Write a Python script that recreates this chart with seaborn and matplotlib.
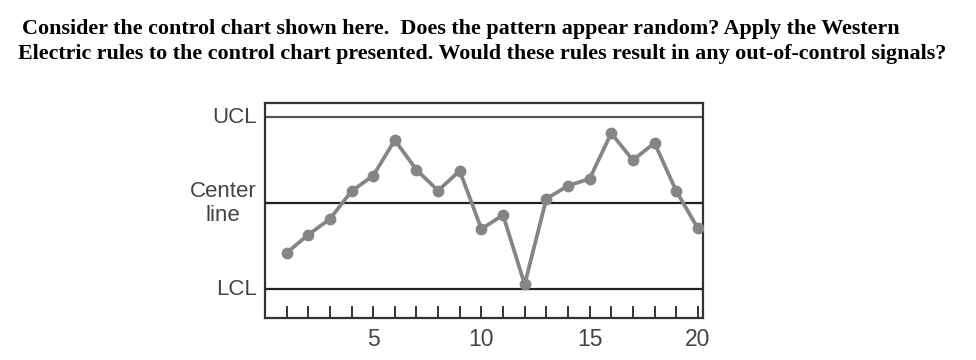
import matplotlib
matplotlib.use("Agg")
import matplotlib.pyplot as plt
import seaborn as sns
import pandas as pd

samples = list(range(1, 21))
values = [-1.73, -1.10, -0.55, 0.42, 0.96, 2.20, 1.16, 0.44, 1.13, -0.90,
          -0.41, -2.83, 0.15, 0.61, 0.85, 2.44, 1.50, 2.10, 0.43, -0.87]
limit_values = [3.0, 0.0, -3.0]
limit_labels = ["UCL", "Center\nline", "LCL"]
major_ticks = [5, 10, 15, 20]
title_line1 = "Consider the control chart shown here.  Does the pattern appear random? Apply the Western"
title_line2 = "Electric rules to the control chart presented. Would these rules result in any out-of-control signals?"

df = pd.DataFrame({"sample": samples, "value": values})

sns.set_style("white")
plt.rcParams["font.family"] = ["Liberation Sans", "DejaVu Sans"]

fig = plt.figure(figsize=(9.76, 3.6), dpi=100)
ax = fig.add_axes([0.2715, 0.1167, 0.449, 0.597])

ax.axhline(limit_values[0], color="#555555", lw=1.6, zorder=1)
ax.axhline(limit_values[1], color="#222222", lw=1.6, zorder=1)
ax.axhline(limit_values[2], color="#222222", lw=1.6, zorder=1)

sns.lineplot(data=df, x="sample", y="value", ax=ax, color="#858585", lw=2.7,
             marker="o", markersize=8.5, markeredgewidth=0, zorder=3)

ax.set_xlim(0, 20.25)
ax.set_ylim(-4.0, 3.49)
ax.set_xlabel("")
ax.set_ylabel("")

ax.set_xticks(major_ticks)
ax.set_xticks(samples, minor=True)
ax.tick_params(axis="x", which="both", bottom=True, direction="in", length=9,
               width=1.4, color="#333333", labelsize=16.5, labelcolor="#444444", pad=7)
ax.set_yticks(limit_values)
ax.set_yticklabels(limit_labels)
ax.tick_params(axis="y", left=False, length=0, labelsize=16, labelcolor="#444444", pad=6)
for lab in ax.get_yticklabels():
    lab.set_linespacing(1.2)
    lab.set_multialignment("center")
    lab.set_va("center")

for s in ax.spines.values():
    s.set_color("#333333")
    s.set_linewidth(1.6)

fig.text(22 / 976, 1 - 34 / 360, title_line1, family="Liberation Serif",
         weight="bold", fontsize=15.85, ha="left", va="baseline", color="black")
fig.text(18 / 976, 1 - 59 / 360, title_line2, family="Liberation Serif",
         weight="bold", fontsize=15.85, ha="left", va="baseline", color="black")

fig.savefig("out.png", dpi=100)
